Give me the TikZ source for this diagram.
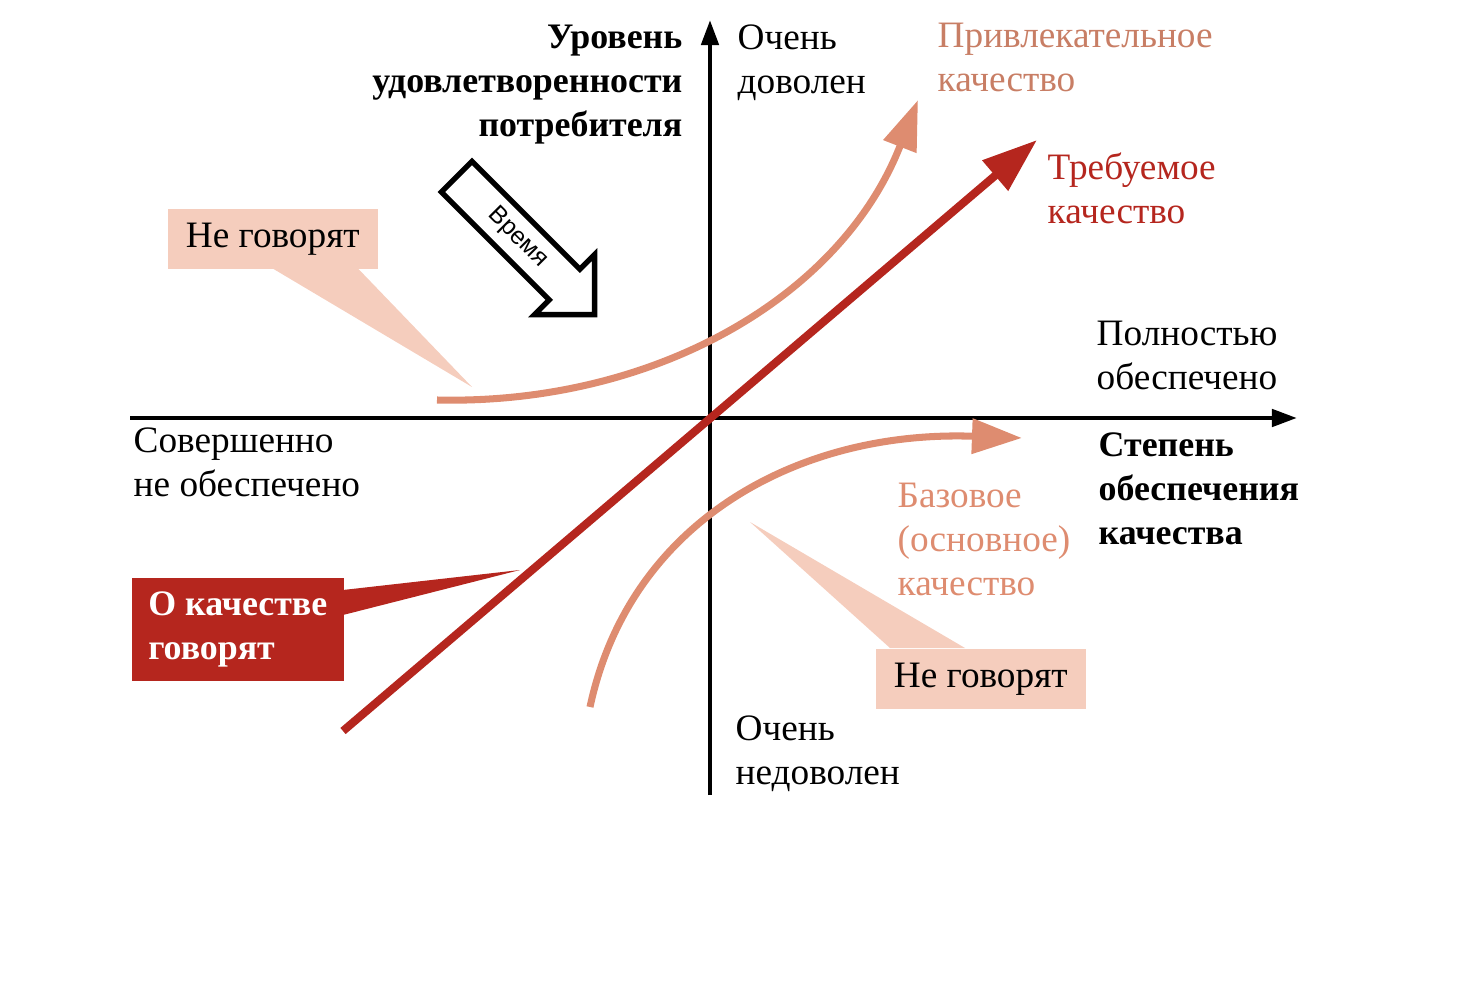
\documentclass[tikz,border=0pt]{standalone}
\usepackage{fontspec}
\setmainfont{Liberation Serif}
\setsansfont{Liberation Sans}
\usetikzlibrary{arrows.meta,shapes.arrows}
\definecolor{darkred}{HTML}{B5261E}
\definecolor{salmon}{HTML}{DE8C70}
\definecolor{pale}{HTML}{F5CDBD}
\tikzset{
  lbl/.style={font=\fontsize{10.6}{12.5}\selectfont, align=left, inner sep=0pt},
  blbl/.style={lbl, font=\fontsize{10.2}{12.5}\selectfont\bfseries},
  callout/.style={lbl, inner sep=4pt, minimum height=0.46cm}
}
\begin{document}
\begin{tikzpicture}[x=0.01cm, y=-0.01cm, >=Stealth]
    \useasboundingbox (0,0) rectangle (1472,991);

    % axes
    \coordinate (xl) at (130,418);
    \coordinate (xr) at (1297,418);
    \coordinate (yb) at (710,795);
    \coordinate (yt) at (710,20);
    \draw[line width=1.3pt, -{Triangle[length=0.25cm,width=0.17cm]}] (xl) -- (xr);
    \draw[line width=1.3pt, -{Triangle[length=0.25cm,width=0.17cm]}] (yb) -- (yt);

    % axis labels
    \node[blbl, anchor=north east, align=right] (ylab) at (683,24) {Уровень\\удовлетворенности\\потребителя};
    \node[lbl, anchor=north west] (top) at (737,24) {Очень\\доволен};
    \node[lbl, anchor=north west] (bot) at (735,715) {Очень\\недоволен};
    \node[lbl, anchor=north west] (full) at (1096,320) {Полностью\\обеспечено};
    \node[lbl, anchor=north west] (none) at (133,427) {Совершенно\\не обеспечено};
    \node[blbl, anchor=north west] (xlab) at (1098,432) {Степень\\обеспечения\\качества};

    % curves
    \coordinate (a0) at (437,400);
    \coordinate (a1) at (918,100);
    \draw[salmon, line width=2pt, -{Triangle[length=0.5cm,width=0.34cm]}]
        (a0) .. controls (650,405) and (840,300) .. (a1);
    \coordinate (b0) at (590,707);
    \coordinate (b1) at (1022,438);
    \draw[salmon, line width=2pt, -{Triangle[length=0.5cm,width=0.34cm]}]
        (b0) .. controls (630,520) and (800,430) .. (b1);
    \coordinate (r0) at (343,731);
    \coordinate (r1) at (1037,140);
    \draw[darkred, line width=2.3pt, -{Triangle[length=0.55cm,width=0.38cm]}] (r0) -- (r1);

    % curve labels
    \node[lbl, anchor=north west, text=salmon!90!black] (attr) at (937,22) {Привлекательное\\качество};
    \node[lbl, anchor=north west, text=darkred] (req) at (1047,152) {Требуемое\\качество};
    \node[lbl, anchor=north west, text=salmon] (base) at (897,482) {Базовое\\(основное)\\качество};

    % callouts
    \node[callout, fill=pale, anchor=north west, minimum width=2.1cm] (c1) at (167,208) {Не говорят};
    \coordinate (t1) at (472,387);
    \fill[pale] (250,255) -- (t1) -- (345,255) -- cycle;
    \node[callout, fill=pale, anchor=north west, minimum width=2.1cm] (c2) at (875,648) {Не говорят};
    \coordinate (t2) at (750,522);
    \fill[pale] (890,648) -- (t2) -- (965,648) -- cycle;
    \coordinate (t3) at (520,570);
    \fill[darkred] (343,590) -- (t3) -- (343,615) -- cycle;
    \node[callout, fill=darkred, text=white, font=\fontsize{10.2}{12.5}\selectfont\bfseries,
          anchor=north west, minimum width=2.12cm, minimum height=0.88cm] (c3) at (131,577) {О качестве\\говорят};

    % time arrow
    \node[single arrow, draw, line width=1.5pt, fill=white, rotate=-45,
          minimum height=1.95cm, minimum width=0.85cm, single arrow head extend=0.2cm,
          font=\sffamily\scriptsize, inner sep=2pt] (time) at (518,238) {Время};
\end{tikzpicture}
\end{document}
